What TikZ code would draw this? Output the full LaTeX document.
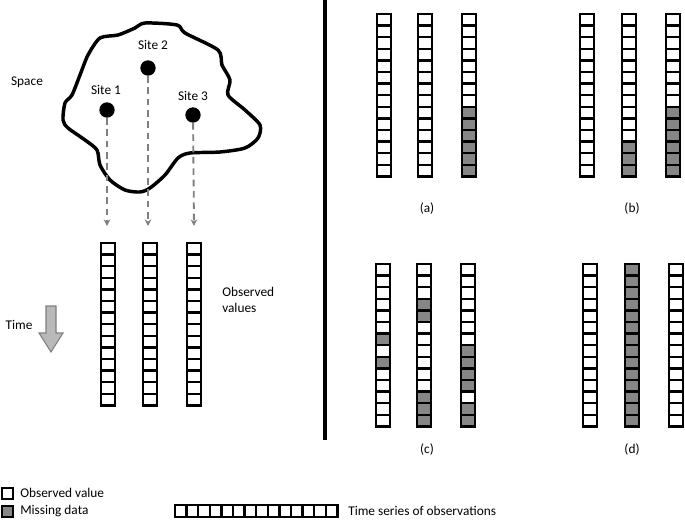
\documentclass[tikz,border=0pt]{standalone}
\usepackage{fontspec}
\setmainfont{Carlito}
\begin{document}
\begin{tikzpicture}[x=0.75pt,y=-0.75pt,
  cell/.style={draw=black,line width=1.9pt,fill=white},
  miss/.style={draw=black,line width=1.9pt,fill=gray!95!white},
  lbl/.style={font=\fontsize{10}{12}\selectfont,inner sep=0pt},
  site/.style={circle,fill=black,minimum size=11.5pt,inner sep=0pt},
  proj/.style={draw=gray,dashed,line width=1.4pt,dash pattern=on 5pt off 3.5pt,-{Stealth[length=5pt,width=5pt]}}]
\usetikzlibrary{arrows.meta}
\useasboundingbox (0,0) rectangle (685,520);
\newcommand{\tscol}[4]{% x, ytop, gray list, name
  \foreach \i in {0,...,13} {\draw[cell] (#1,#2+\i*11.6) rectangle ++(14,11.6);}
  \foreach \i in {#3} {\draw[miss] (#1,#2+\i*11.6) rectangle ++(14,11.6);}
  \coordinate (#4) at (#1+7,#2);}
% blob
\draw[line width=2.6pt,line join=round] plot[smooth cycle,tension=0.45] coordinates {
 (145,23) (177,25) (185,33) (218,50) (222,65) (230,80) (228,95) (245,110) (260,125)
 (258,138) (245,148) (220,152) (190,153) (178,158) (165,175) (150,188) (140,192)
 (125,190) (110,180) (100,165) (97,150) (85,140) (68,128) (63,120) (65,103) (72,95)
 (80,75) (88,55) (100,38) (118,35) (135,28)};
\node[site] (s1) at (107,110) {};
\node[site] (s2) at (148,68) {};
\node[site] (s3) at (193,115) {};
\node[lbl] (l1) at (106,90) {Site 1};
\node[lbl] (l2) at (153,45) {Site 2};
\node[lbl] (l3) at (193,96) {Site 3};
\node[lbl] (sp) at (27,82) {Space};
% left columns
\tscol{101}{243}{}{c1}
\tscol{143}{243}{}{c2}
\tscol{187}{243}{}{c3}
\coordinate (e1) at (107,226); \coordinate (e2) at (148,226); \coordinate (e3) at (194,226);
\draw[proj] (s1) -- (e1);
\draw[proj] (s2) -- (e2);
\draw[proj] (s3) -- (e3);
\node[lbl] (tm) at (19,325) {Time};
\draw[draw=gray,fill=gray!55,line width=0.8pt] (46,306) -- (56,306) -- (56,333) -- (63,333) -- (51,352) -- (39,333) -- (46,333) -- cycle;
\node[lbl,align=left,anchor=west] (ov) at (222,300) {Observed\\values};
% divider
\draw[line width=2.6pt] (325,0) -- (325,440);
% panels
\tscol{377}{14}{}{a1}\tscol{418}{14}{}{a2}\tscol{462}{14}{8,...,13}{a3}
\tscol{580}{14}{}{b1}\tscol{622}{14}{11,12,13}{b2}\tscol{666}{14}{8,...,13}{b3}
\tscol{376}{264}{6,8}{c1}\tscol{417}{264}{3,4,11,12,13}{c2}\tscol{461}{264}{7,8,9,10,12,13}{c3}
\tscol{583}{264}{}{d1}\tscol{625}{264}{0,...,13}{d2}\tscol{669}{264}{}{d3}
\node[lbl] (pa) at (427,209) {(a)};
\node[lbl] (pb) at (632,209) {(b)};
\node[lbl] (pc) at (427,450) {(c)};
\node[lbl] (pd) at (632,450) {(d)};
% legend
\draw[cell] (2,488) rectangle ++(11,11);
\node[lbl,anchor=west] (lo) at (20,493) {Observed value};
\draw[miss] (2,506) rectangle ++(11,11);
\node[lbl,anchor=west] (lm) at (20,511) {Missing data};
\foreach \i in {0,...,13} {\draw[cell] (175+\i*11.6,505) rectangle ++(11.6,12);}
\node[lbl,anchor=west] (lt) at (348,511) {Time series of observations};
\end{tikzpicture}
\end{document}
